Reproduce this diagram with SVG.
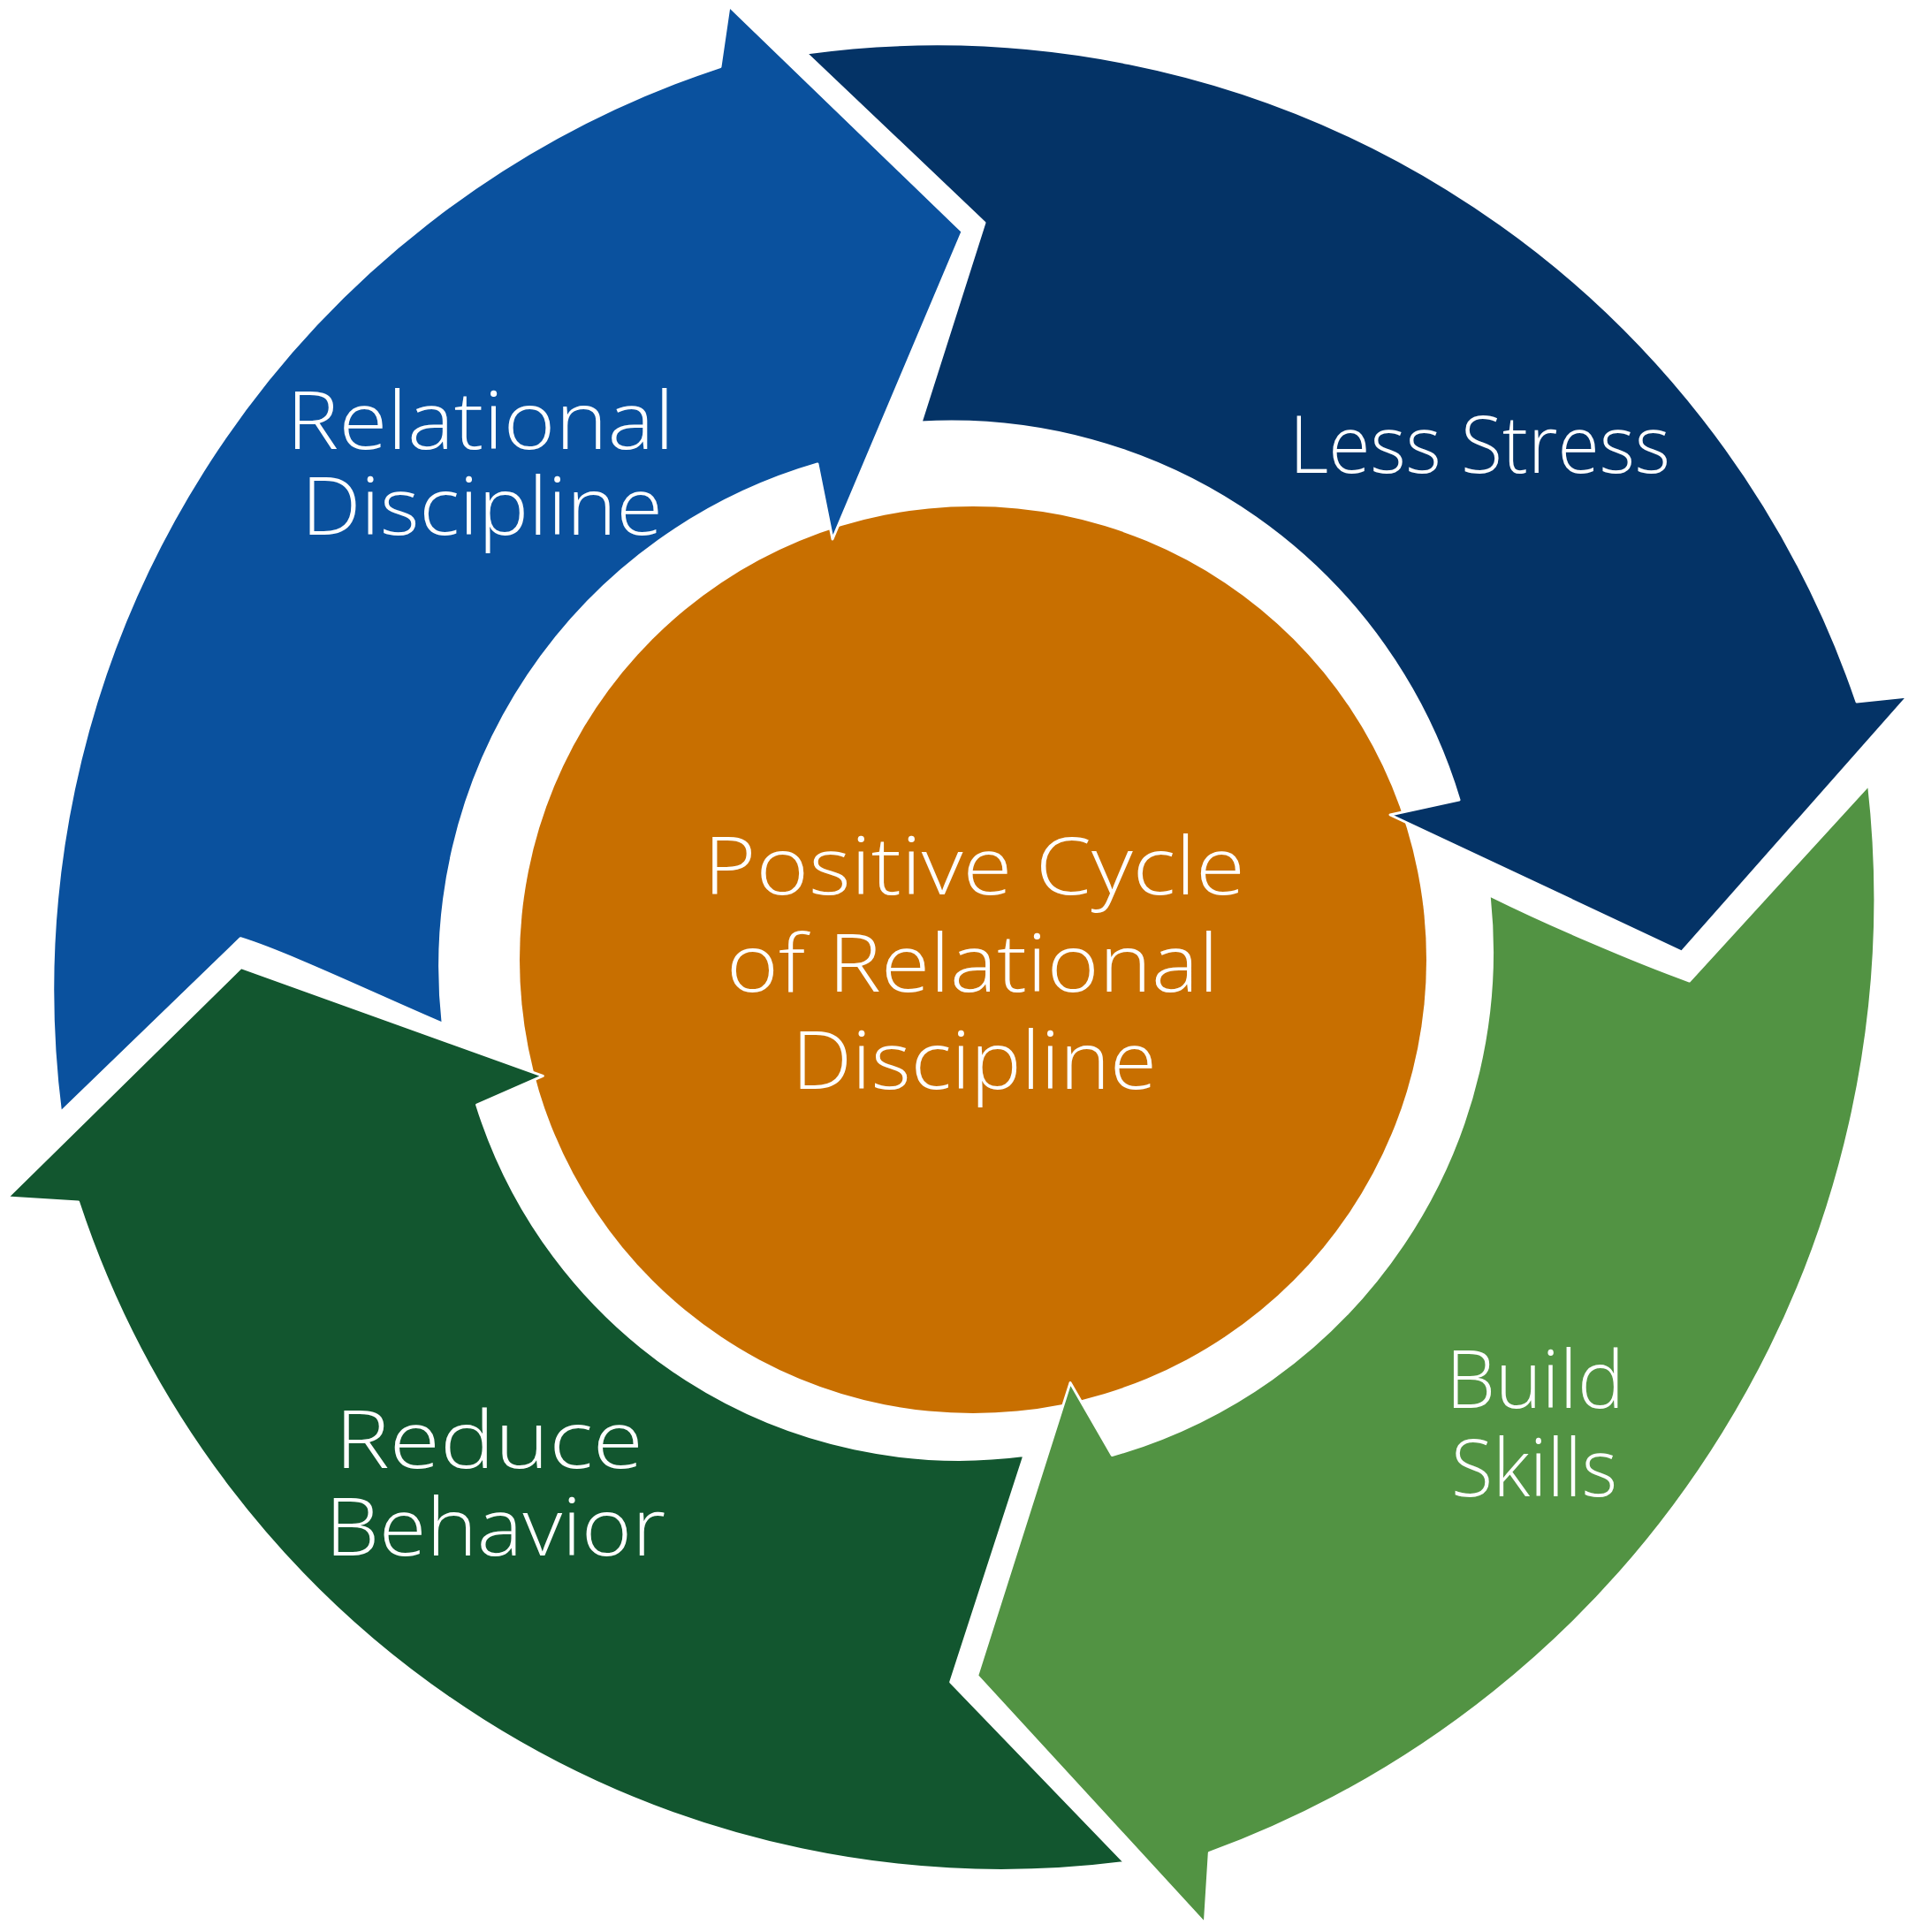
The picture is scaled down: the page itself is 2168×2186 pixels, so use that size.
<svg xmlns="http://www.w3.org/2000/svg" width="2168" height="2186" viewBox="0 0 2168 2186">
<style>
.arrow{stroke:#ffffff;stroke-width:3;stroke-linejoin:round}
.lbl{font-family:"Open Sans","DejaVu Sans","Liberation Sans",sans-serif;font-weight:300;font-size:90px;fill:#ffffff}
</style>
<rect x="0" y="0" width="2168" height="2186" fill="#ffffff"/>
<g id="center-node">
<circle cx="1101" cy="1086" r="513" fill="#C86F00"/>
</g>
<g id="node-relational-discipline">
<path class="arrow" fill="#0A519E" d="M68.6,1258.7 L272.2,1061.7 C325,1078 430,1128 501.2,1158.3 A592,592 0 0 1 925,525 L942,610 L1089,262 L825,7 L815,75.5 A1100,1100 0 0 0 68.6,1258.7 Z"/>
<text class="lbl" x="324" y="508" textLength="439" lengthAdjust="spacingAndGlyphs">Relational</text>
<text class="lbl" x="341" y="605" textLength="409" lengthAdjust="spacingAndGlyphs">Discipline</text>
</g>
<g id="node-less-stress">
<path class="arrow" fill="#043366" d="M912,60 L1114,252 L1042,478 A600,600 0 0 1 1651,905 L1573,922 L1903,1077 L2158.6,788 L2101,794 A1100,1100 0 0 0 912,60 Z"/>
<text class="lbl" x="1459" y="535" textLength="431" lengthAdjust="spacingAndGlyphs">Less Stress</text>
</g>
<g id="node-build-skills">
<path class="arrow" fill="#529343" d="M2114.6,888 L1911.6,1110 C1850,1088 1750,1045 1685,1012.7 A592,592 0 0 1 1258.3,1646.6 L1211,1564.6 L1105.7,1896 L1363.3,2176.3 L1368.3,2096.5 A1150,1150 0 0 0 2114.6,888 Z"/>
<text class="lbl" x="1636" y="1593" textLength="202" lengthAdjust="spacingAndGlyphs">Build</text>
<text class="lbl" x="1642" y="1693" textLength="188" lengthAdjust="spacingAndGlyphs">Skills</text>
</g>
<g id="node-reduce-behavior">
<path class="arrow" fill="#12562F" d="M1272.7,2107.5 L1075.7,1903.2 L1159,1646.6 A572,572 0 0 1 539.6,1250 L614.3,1217.3 L272.7,1094.7 L8.2,1355 L88.6,1360 A1100,1100 0 0 0 1272.7,2107.5 Z"/>
<text class="lbl" x="379" y="1661" textLength="349" lengthAdjust="spacingAndGlyphs">Reduce</text>
<text class="lbl" x="368" y="1760" textLength="385" lengthAdjust="spacingAndGlyphs">Behavior</text>
</g>
<g id="center-label">
<text class="lbl" x="796" y="1012" textLength="613" lengthAdjust="spacingAndGlyphs">Positive Cycle</text>
<text class="lbl" x="822" y="1122" textLength="557" lengthAdjust="spacingAndGlyphs">of Relational</text>
<text class="lbl" x="896" y="1232" textLength="413" lengthAdjust="spacingAndGlyphs">Discipline</text>
</g>
<g id="connectors"></g>
</svg>
